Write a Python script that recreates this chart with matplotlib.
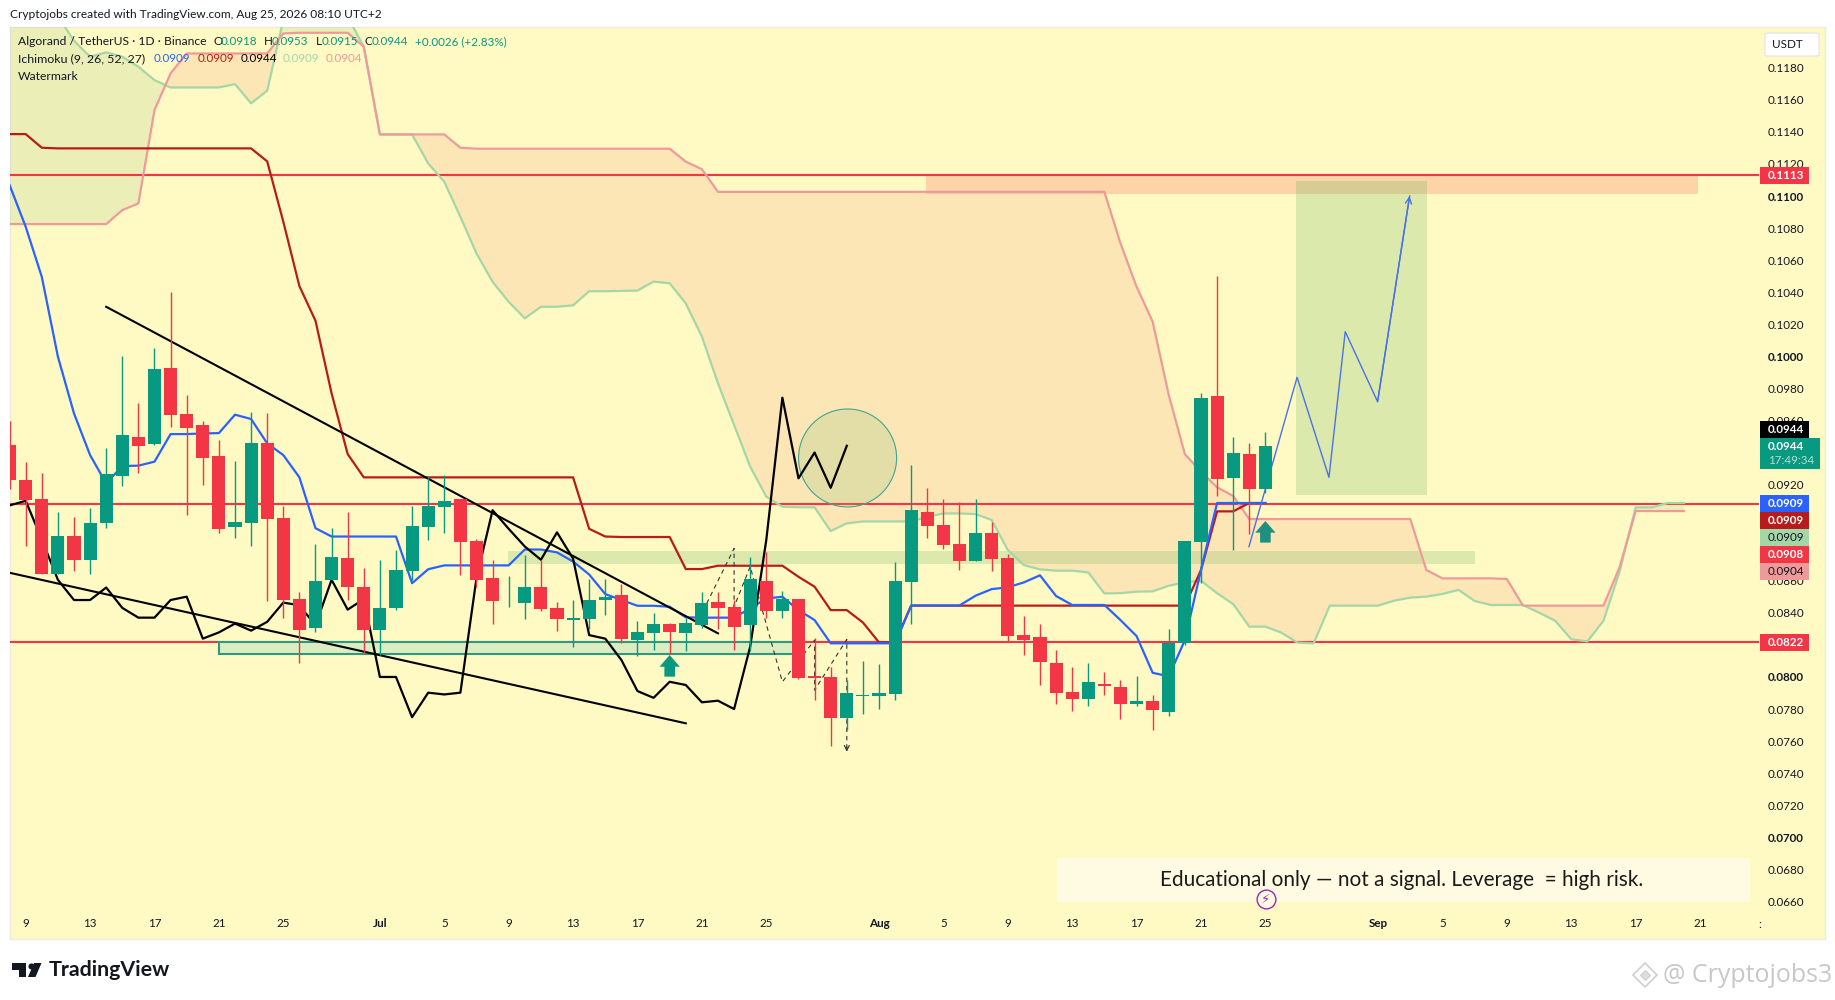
import numpy as np
import matplotlib
matplotlib.use('Agg')
import matplotlib.pyplot as plt
from matplotlib.lines import Line2D
from matplotlib.patches import Rectangle, FancyBboxPatch, Ellipse, Polygon

plt.rcParams['font.family'] = ['Lato', 'DejaVu Sans']

W, H = 1835, 1000

# daily candles, first one is Jun 8
opens = [0.09447, 0.09228, 0.0911, 0.08644, 0.0888, 0.08727, 0.08961, 0.09255, 0.09496, 0.09453,
         0.09927, 0.0964, 0.09571, 0.09378, 0.08935, 0.08961, 0.09459, 0.08992, 0.08486, 0.08307,
         0.08604, 0.08742, 0.0856, 0.08294, 0.08431, 0.08661, 0.08935, 0.09062, 0.0911, 0.0885,
         0.08617, 0.08477, 0.08464, 0.0856, 0.08431, 0.08357, 0.08361, 0.08482, 0.08511, 0.0823,
         0.08276, 0.0833, 0.08276, 0.08324, 0.08467, 0.08436, 0.08324, 0.08598, 0.08411, 0.08486,
         0.08004, 0.08, 0.07744, 0.07881, 0.07883, 0.07893, 0.08592, 0.09029, 0.08947, 0.08829,
         0.08723, 0.08898, 0.08742, 0.08261, 0.08249, 0.08087, 0.07906, 0.07862, 0.07956, 0.07937,
         0.07833, 0.0785, 0.07781, 0.08212, 0.08842, 0.09752, 0.09241, 0.0939, 0.09172]
highs = [0.09598, 0.0934, 0.0927, 0.09027, 0.08996, 0.09057, 0.09426, 0.10002, 0.09706, 0.10049,
         0.104, 0.09758, 0.09598, 0.09478, 0.09347, 0.09654, 0.09644, 0.09066, 0.0853, 0.0883,
         0.0893, 0.09029, 0.08681, 0.08727, 0.08792, 0.09066, 0.09252, 0.0926, 0.0911, 0.08862,
         0.08727, 0.08628, 0.0876, 0.08727, 0.08469, 0.0848, 0.0861, 0.0861, 0.08577, 0.0835,
         0.08397, 0.08338, 0.08365, 0.0853, 0.0853, 0.0848, 0.08746, 0.0878, 0.08536, 0.08486,
         0.0824, 0.08064, 0.0798, 0.08099, 0.0808, 0.08717, 0.09322, 0.09178, 0.0911, 0.09091,
         0.0911, 0.08966, 0.08767, 0.0838, 0.0833, 0.08168, 0.08062, 0.08087, 0.0803, 0.0798,
         0.08006, 0.07887, 0.08299, 0.08848, 0.0977, 0.105, 0.09497, 0.09459, 0.09528]
lows = [0.09175, 0.08819, 0.0864, 0.08644, 0.08661, 0.08644, 0.0893, 0.09193, 0.09274, 0.09447,
        0.09561, 0.09011, 0.09197, 0.08897, 0.08869, 0.08819, 0.08471, 0.0837, 0.0809, 0.08283,
        0.08604, 0.0848, 0.08151, 0.08136, 0.08418, 0.08602, 0.08852, 0.08895, 0.08633, 0.08563,
        0.08333, 0.08438, 0.08361, 0.08414, 0.08289, 0.08184, 0.083, 0.08388, 0.08214, 0.0813,
        0.08168, 0.08143, 0.08162, 0.08303, 0.08297, 0.08168, 0.08162, 0.08365, 0.08367, 0.07985,
        0.07856, 0.07569, 0.07669, 0.07769, 0.078, 0.07856, 0.0833, 0.08866, 0.08798, 0.08667,
        0.08723, 0.0866, 0.0822, 0.08137, 0.0795, 0.07831, 0.07787, 0.07819, 0.07887, 0.07737,
        0.07819, 0.07669, 0.07756, 0.08199, 0.08584, 0.09129, 0.08792, 0.08889, 0.0915]
closes = [0.09226, 0.09103, 0.08644, 0.0888, 0.08727, 0.08961, 0.09269, 0.09509, 0.09442, 0.0992,
          0.09634, 0.09553, 0.09368, 0.08924, 0.08967, 0.09459, 0.08985, 0.0848, 0.08294, 0.086,
          0.08749, 0.0856, 0.08294, 0.08431, 0.08668, 0.08941, 0.09066, 0.09099, 0.08843, 0.08604,
          0.08475, 0.08481, 0.0856, 0.08425, 0.08361, 0.08365, 0.0848, 0.08497, 0.08234, 0.0828,
          0.0833, 0.0828, 0.08334, 0.08461, 0.0843, 0.08311, 0.0861, 0.08411, 0.08486, 0.07993,
          0.07993, 0.07744, 0.079, 0.07887, 0.079, 0.08598, 0.09041, 0.08941, 0.08823, 0.08723,
          0.08898, 0.08736, 0.08255, 0.0823, 0.08093, 0.079, 0.07862, 0.07968, 0.07943, 0.07831,
          0.0785, 0.07794, 0.08213, 0.08848, 0.0974, 0.09235, 0.09397, 0.09172, 0.0944]

# ichimoku, same first day
tenkan = [0.11068, 0.10808, 0.10496, 0.09998, 0.09644, 0.09384, 0.09207, 0.09316, 0.09318, 0.09343,
          0.09515, 0.09515, 0.09519, 0.09521, 0.09636, 0.09609, 0.09457, 0.09384, 0.09245, 0.08928,
          0.08876, 0.08876, 0.08876, 0.08876, 0.08876, 0.08585, 0.08672, 0.08696, 0.08696, 0.08696,
          0.08696, 0.08696, 0.08795, 0.08795, 0.08777, 0.0872, 0.08639, 0.08517, 0.0848, 0.08444,
          0.08444, 0.08438, 0.08372, 0.0837, 0.0837, 0.0837, 0.08428, 0.0849, 0.085, 0.08417,
          0.08355, 0.0821, 0.0821, 0.0821, 0.0821, 0.0821, 0.08446, 0.08446, 0.08446, 0.08446,
          0.08507, 0.08548, 0.08559, 0.0859, 0.08634, 0.08505, 0.08449, 0.08449, 0.08449, 0.08355,
          0.08255, 0.08026, 0.08004, 0.0823, 0.08667, 0.09085, 0.09085, 0.09085, 0.09085]
kijun = [0.11386, 0.11386, 0.11301, 0.11297, 0.11297, 0.11297, 0.11297, 0.11297, 0.11297, 0.11297,
         0.11297, 0.11297, 0.11297, 0.11297, 0.11297, 0.11297, 0.11216, 0.1084, 0.10438, 0.10222,
         0.09769, 0.0939, 0.09245, 0.09245, 0.09245, 0.09245, 0.09245, 0.09245, 0.09245, 0.09245,
         0.09245, 0.09245, 0.09245, 0.09245, 0.09245, 0.09245, 0.08924, 0.08876, 0.08873, 0.08873,
         0.08873, 0.08873, 0.08673, 0.08673, 0.08694, 0.08694, 0.08694, 0.08694, 0.08694, 0.08625,
         0.08563, 0.08417, 0.08417, 0.0834, 0.08216, 0.08216, 0.08445, 0.08445, 0.08445, 0.08445,
         0.08445, 0.08445, 0.08445, 0.08445, 0.08445, 0.08445, 0.08445, 0.08445, 0.08445, 0.08445,
         0.08445, 0.08445, 0.08445, 0.08445, 0.08667, 0.09033, 0.09033, 0.09085, 0.09085]
lagging = [0.0907, 0.09099, 0.08858, 0.08606, 0.0848, 0.0848, 0.08558, 0.08431, 0.0837, 0.0837,
           0.0848, 0.08501, 0.08239, 0.08278, 0.08333, 0.08289, 0.08344, 0.08464, 0.08447, 0.08322,
           0.08606, 0.0842, 0.08486, 0.08, 0.08, 0.07749, 0.07902, 0.07891, 0.07902, 0.08617,
           0.0904, 0.08924, 0.08814, 0.08731, 0.08902, 0.08738, 0.08261, 0.08239, 0.08106, 0.07912,
           0.0787, 0.0797, 0.0795, 0.07842, 0.07852, 0.078, 0.08189, 0.08854, 0.09742, 0.09239,
           0.094, 0.0918, 0.09442]
span_a = [0.123, 0.1225, 0.122, 0.1212, 0.11968, 0.11869, 0.11896, 0.11869, 0.11806, 0.11723,
          0.11677, 0.11677, 0.11677, 0.11677, 0.11698, 0.11578, 0.11657, 0.12097, 0.1215, 0.1215,
          0.1215, 0.12118, 0.11931, 0.11384, 0.11384, 0.11384, 0.11203, 0.11089, 0.1087, 0.10642,
          0.10465, 0.1034, 0.10237, 0.10309, 0.10309, 0.10318, 0.10406, 0.10406, 0.10408, 0.1041,
          0.10466, 0.10456, 0.1033, 0.10123, 0.09832, 0.09572, 0.09312, 0.09125, 0.09062, 0.09059,
          0.09058, 0.0891, 0.08958, 0.0897, 0.0897, 0.0897, 0.0897, 0.08999, 0.0902, 0.0902,
          0.09016, 0.08979, 0.08792, 0.08698, 0.08671, 0.08663, 0.08663, 0.08652, 0.08521, 0.08523,
          0.08532, 0.08534, 0.08569, 0.0859, 0.08601, 0.08522, 0.08455, 0.08314, 0.08314, 0.08276,
          0.08214, 0.0821, 0.08445, 0.08445, 0.08445, 0.08445, 0.08476, 0.08495, 0.08501, 0.08518,
          0.08543, 0.08474, 0.08449, 0.08449, 0.08449, 0.08401, 0.08351, 0.08235, 0.08222, 0.08351,
          0.08657, 0.09058, 0.09058, 0.09085, 0.09085]
span_b = [0.10825, 0.10825, 0.10825, 0.10825, 0.10825, 0.10825, 0.10825, 0.10912, 0.10954, 0.11536,
          0.11765, 0.11889, 0.11889, 0.11889, 0.11889, 0.11889, 0.11889, 0.12014, 0.12018, 0.12018,
          0.12018, 0.12018, 0.11931, 0.11384, 0.11384, 0.11384, 0.11384, 0.11384, 0.11301, 0.11295,
          0.11295, 0.11295, 0.11295, 0.11295, 0.11295, 0.11295, 0.11295, 0.11295, 0.11295, 0.11295,
          0.11295, 0.11295, 0.11214, 0.11167, 0.11026, 0.11026, 0.11026, 0.11026, 0.11026, 0.11026,
          0.11026, 0.11026, 0.11026, 0.11026, 0.11026, 0.11026, 0.11026, 0.11026, 0.11026, 0.11026,
          0.11026, 0.11026, 0.11026, 0.11026, 0.11026, 0.11026, 0.11026, 0.11026, 0.11026, 0.10705,
          0.10434, 0.10216, 0.09758, 0.0939, 0.0928, 0.09183, 0.09129, 0.08985, 0.08985, 0.08985,
          0.08985, 0.08985, 0.08985, 0.08985, 0.08985, 0.08985, 0.08985, 0.08985, 0.08667, 0.08615,
          0.08615, 0.08615, 0.08615, 0.08611, 0.08445, 0.08445, 0.08445, 0.08445, 0.08445, 0.08445,
          0.08684, 0.09035, 0.09035, 0.09035, 0.09035]

# horizontal levels and drawings
level_prices = [0.1113, 0.0908, 0.0822]
trend1_days, trend1_prices = [5, 43], [0.10309, 0.08272]
trend2_days, trend2_prices = [-1, 41], [0.0865, 0.07711]
forecast_days = [75.98, 78.97, 80.95, 81.96, 83.97]
forecast_prices = [0.08813, 0.09869, 0.09245, 0.10154, 0.09717]
forecast_tip = (85.96, 0.11)
dash_days = [42.3, 44, 44, 45, 47, 49, 49, 51, 51]
dash_prices = [0.08459, 0.08802, 0.08438, 0.08688, 0.0797, 0.0823, 0.07918, 0.08234, 0.07534]

# labels that sit fully under the price tags are left out
price_ticks = [0.118, 0.116, 0.114, 0.112, 0.110, 0.108, 0.106, 0.104, 0.102, 0.100, 0.098, 0.096,
               0.092, 0.086, 0.084, 0.080, 0.078, 0.076, 0.074, 0.072, 0.070, 0.068, 0.066]
strong_ticks = [0.110, 0.100, 0.080, 0.070]
date_ticks = [0, 4, 8, 12, 16, 22, 26, 30, 34, 38, 42, 46, 53, 57, 61, 65, 69, 73, 77, 84, 88, 92, 96, 100, 104]
date_labels = ['9', '13', '17', '21', '25', 'Jul', '5', '9', '13', '17', '21', '25', 'Aug', '5', '9', '13', '17',
               '21', '25', 'Sep', '5', '9', '13', '17', '21']

GREEN = '#089981'
RED = '#F23645'
BG = '#FFF9C4'
DARK = '#131722'

fig = plt.figure(figsize=(W / 100, H / 100), dpi=100, facecolor='white')
ax = fig.add_axes([9.5 / W, 1 - 908 / H, (1759 - 9.5) / W, (908 - 26.7) / H], facecolor='none')
ax.set_xlim(-1.006, 107.66)
ax.set_ylim(0.06559, 0.12056)
for s in ax.spines.values():
    s.set_visible(False)


def ftext(x, y, s, **kw):
    kw.setdefault('va', 'center')
    kw.setdefault('color', DARK)
    kw.setdefault('fontsize', 8.4)
    fig.text(x / W, 1 - y / H, s, **kw)


def fbox(x0, y0, x1, y1, color, z=5, **kw):
    fig.patches.append(Rectangle((x0 / W, 1 - y1 / H), (x1 - x0) / W, (y1 - y0) / H,
                                 transform=fig.transFigure, facecolor=color, zorder=z, **kw))


# yellow panel behind everything
fbox(9.5, 26.7, 1825, 938.5, BG, z=-1, edgecolor='#EEEBDD', linewidth=1)

# kumo cloud
days_span = np.arange(len(span_a)) - 1
a, b = np.array(span_a), np.array(span_b)
ax.fill_between(days_span, a, b, where=a >= b, color='#43A047', alpha=0.1, lw=0, interpolate=True, zorder=1)
ax.fill_between(days_span, a, b, where=a <= b, color='#F44336', alpha=0.1, lw=0, interpolate=True, zorder=1)

# zones
ax.add_patch(Rectangle((55.9, 0.1101), 48, 0.00122, facecolor='#F44336', alpha=0.2, lw=0, zorder=2))
ax.add_patch(Rectangle((78.9, 0.09135), 8.13, 0.01958, facecolor='#4CAF50', alpha=0.2, lw=0, zorder=2))
ax.add_patch(Rectangle((29.96, 0.08705), 60.04, 0.00081, facecolor='#4CAF50', alpha=0.2, lw=0, zorder=2))

for lv in level_prices:
    ax.axhline(lv, color=RED, lw=1.5, zorder=2.5)
ax.add_patch(Rectangle((11.98, 0.08143), 36, 0.00077, facecolor='#DCEDC1', edgecolor='#2A9A80', lw=1.5, zorder=2.6))

ax.add_patch(Ellipse((51.05, 0.09366), 6.09, 0.00611, facecolor='#8AC176', alpha=0.22, lw=0, zorder=2.7))
ax.add_patch(Ellipse((51.05, 0.09366), 6.09, 0.00611, facecolor='none', edgecolor='#3FA594', lw=0.8, zorder=2.7))

# ichimoku lines
ax.plot(days_span, span_a, color='#A5D6A7', lw=1.6, zorder=3)
ax.plot(days_span, span_b, color='#EF9A9A', lw=1.6, zorder=3)
ax.plot(np.arange(len(kijun)) - 1, kijun, color='#B71C1C', lw=1.6, zorder=3.1)
ax.plot(np.arange(len(tenkan)) - 1, tenkan, color='#2962FF', lw=1.6, zorder=3.1)
ax.plot(np.arange(len(lagging)) - 1, lagging, color='black', lw=1.6, zorder=3.2)

# drawings
ax.plot(trend1_days, trend1_prices, color='black', lw=1.5, zorder=3.3)
ax.plot(trend2_days, trend2_prices, color='black', lw=1.5, zorder=3.3)
ax.plot(dash_days, dash_prices, color='#333333', lw=0.8, ls=(0, (4, 3.5)), zorder=3.3)
# only the head of the dashed arrow, its shaft stays dashed
ax.annotate('', xy=(dash_days[-1], dash_prices[-1]), xytext=(dash_days[-2], dash_prices[-1] + 0.0003),
            arrowprops=dict(arrowstyle='->', color='#333333', lw=0.8, mutation_scale=9, shrinkA=0, shrinkB=0), zorder=3.3)
ax.plot(forecast_days + [forecast_tip[0]], forecast_prices + [forecast_tip[1]], color='#4A72E8', lw=1, zorder=3.3)
ax.annotate('', xy=forecast_tip, xytext=(forecast_days[-1], forecast_prices[-1]),
            arrowprops=dict(arrowstyle='->', color='#4A72E8', lw=1, mutation_scale=11, shrinkA=0, shrinkB=0), zorder=3.3)

# candles
days = np.arange(len(opens)) - 1
o, h, l, c = map(np.array, (opens, highs, lows, closes))
up = c >= o
colors = np.where(up, GREEN, RED)
ax.vlines(days, l, h, colors=colors, lw=1.0, zorder=4)
ax.bar(days, np.abs(c - o), bottom=np.minimum(o, c), width=0.81, color=colors, lw=0, zorder=4.1)

# up arrows
for d, tip, neck, foot, col in [(40, 0.08137, 0.08064, 0.08002, GREEN), (77, 0.08973, 0.08900, 0.08838, '#1F9080')]:
    ax.add_patch(Polygon([(d, tip), (d + 0.63, neck), (d + 0.33, neck), (d + 0.33, foot), (d - 0.33, foot),
                          (d - 0.33, neck), (d - 0.63, neck)], closed=True, facecolor=col, lw=0, zorder=4.5))

# axes
ax.yaxis.tick_right()
ax.set_yticks(price_ticks)
ax.set_yticklabels(['%.4f' % p for p in price_ticks])
ax.tick_params(axis='y', length=0, pad=6.4, labelsize=8.4, labelcolor=DARK)
ax.set_xticks(date_ticks)
ax.set_xticklabels(date_labels)
ax.tick_params(axis='x', length=0, pad=7, labelsize=8.4, labelcolor=DARK)
for lab, p in zip(ax.get_yticklabels(), price_ticks):
    if p in strong_ticks:
        lab.set_fontweight('bold')
for lab, t in zip(ax.get_xticklabels(), date_labels):
    if t in ('Jul', 'Aug', 'Sep'):
        lab.set_fontweight('bold')
ftext(1760, 925, ':', ha='center')

# price tags on the right
tags = [('0.1113', RED, 'white', 167, 184), ('0.0944', 'black', 'white', 421, 437.7),
        ('0.0909', '#2962FF', 'white', 495, 512), ('0.0909', '#B71C1C', 'white', 512, 529),
        ('0.0909', '#A5D6A7', DARK, 529, 546), ('0.0908', RED, 'white', 546, 563),
        ('0.0904', '#EF9A9A', DARK, 563, 580), ('0.0822', RED, 'white', 634, 651)]
for txt, col, tc, y0, y1 in tags:
    fbox(1760, y0, 1809, y1, col)
    ftext(1768, (y0 + y1) / 2, txt, color=tc, zorder=6, fontweight='bold' if tc == 'white' else 'normal')
fbox(1760, 438, 1820, 469, GREEN)
ftext(1768, 446.5, '0.0944', color='white', zorder=6, fontweight='bold')
ftext(1768, 460, '17:49:34', color='#B5DED5', zorder=6)

# USDT button
fig.patches.append(FancyBboxPatch((1765 / W, 1 - 56 / H), 54 / W, 23 / H, transform=fig.transFigure,
                                  boxstyle='round,pad=0,rounding_size=0.002', mutation_aspect=H / W,
                                  facecolor='white', edgecolor='#E0E3EB', lw=0.8, zorder=5))
ftext(1772, 44, 'USDT', zorder=6)

# header and legend
ftext(10, 15, 'Cryptojobs created with TradingView.com, Aug 25, 2026 08:10 UTC+2', fontsize=8.55)
ftext(18, 41.7, 'Algorand / TetherUS · 1D · Binance', fontsize=8.7)
for x, s, col in [(213.5, 'O', DARK), (221, '0.0918', GREEN), (264, 'H', DARK), (271.6, '0.0953', GREEN),
                  (315.5, 'L', DARK), (322, '0.0915', GREEN), (364.6, 'C', DARK), (372, '0.0944', GREEN),
                  (415, '+0.0026 (+2.83%)', GREEN)]:
    ftext(x, 41.7, s, color=col)
ftext(18, 58.7, 'Ichimoku (9, 26, 52, 27)', fontsize=8.9)
for x, s, col in [(153.4, '0.0909', '#2962FF'), (197.3, '0.0909', '#B71C1C'), (240.4, '0.0944', 'black'),
                  (283, '0.0909', '#A5D6A7'), (326, '0.0904', '#EF9A9A')]:
    ftext(x, 58.7, s, color=col)
ftext(18, 76, 'Watermark', fontsize=8.7)

# note box and lightning mark
fbox(1057, 858, 1750, 902, '#FFFBE3', z=1)
ftext(1402, 880, 'Educational only — not a signal. Leverage  = high risk.', ha='center', fontsize=14.95, color='#1A1A1A', zorder=6)
fig.add_artist(Line2D([1265.7 / W], [1 - 899.3 / H], transform=fig.transFigure, marker='o', ms=13.5,
                      mfc='#FFFBE3', mec='#9C27B0', mew=1, zorder=7))
ftext(1265.7, 899.3, '⚡', ha='center', color='#9C27B0', fontsize=9.5, family='DejaVu Sans', zorder=8)

# footer
fig.patches.append(Polygon([(12 / W, 1 - 963 / H), (26 / W, 1 - 963 / H), (26 / W, 1 - 977 / H), (19 / W, 1 - 977 / H),
                            (19 / W, 1 - 969.5 / H), (12 / W, 1 - 969.5 / H)], transform=fig.transFigure, facecolor=DARK, lw=0, zorder=5))
fig.patches.append(Polygon([(34 / W, 1 - 963 / H), (41.5 / W, 1 - 963 / H), (35.5 / W, 1 - 977 / H), (28 / W, 1 - 977 / H)],
                           transform=fig.transFigure, facecolor=DARK, lw=0, zorder=5))
fig.add_artist(Line2D([30.5 / W], [1 - 966 / H], transform=fig.transFigure, marker='o', ms=4.4, mfc=DARK, mew=0, zorder=5))
ftext(49, 969.5, 'TradingView', fontsize=15.4, fontweight='bold')
fig.add_artist(Line2D([1644.5 / W], [1 - 975 / H], transform=fig.transFigure, marker='D', ms=12, mfc='none', mec='#CFCFCF', mew=1.2, zorder=5))
fig.add_artist(Line2D([1644.5 / W], [1 - 975 / H], transform=fig.transFigure, marker='D', ms=5, mfc='#DDDDDD', mec='#CFCFCF', mew=0.8, zorder=5))
ftext(1663, 975.5, '@ Cryptojobs3', fontsize=18, color='#C8C8C8', family='Open Sans')

fig.savefig('out.png', dpi=100, facecolor='white')
